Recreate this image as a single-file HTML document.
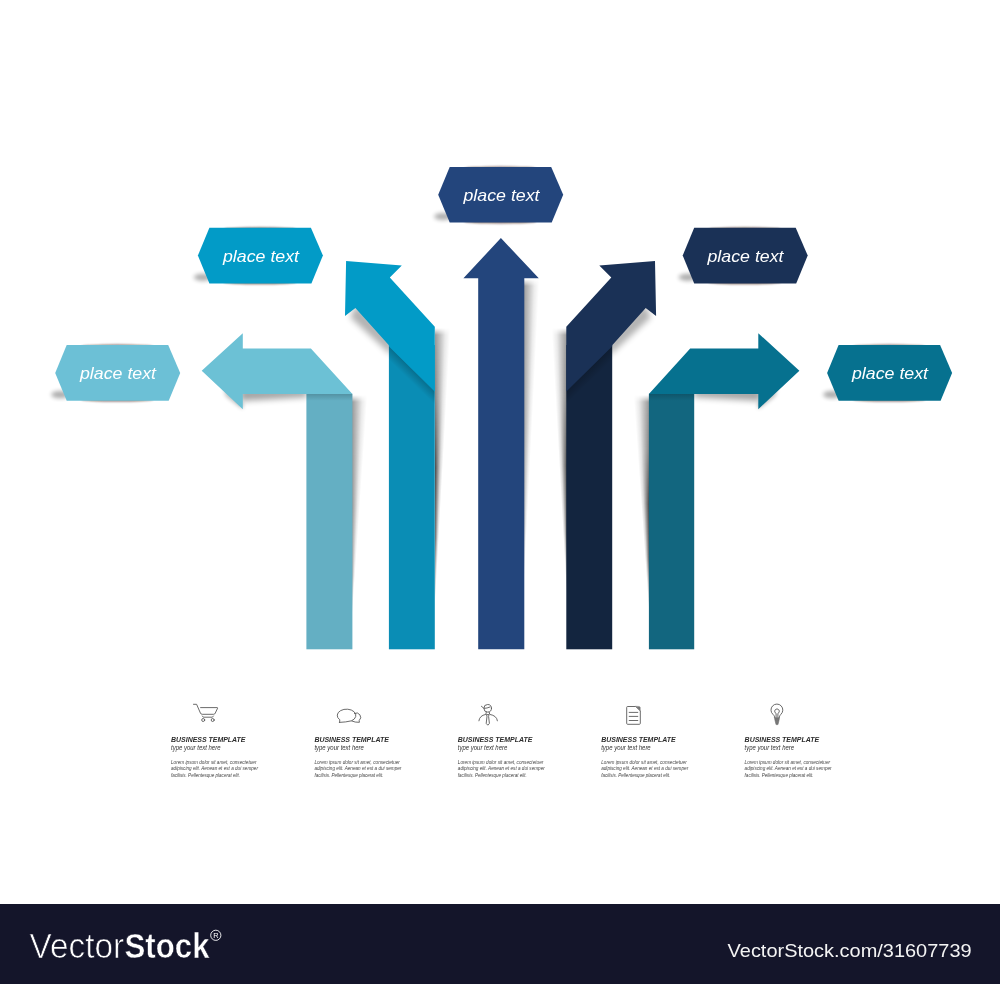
<!DOCTYPE html>
<html><head><meta charset="utf-8">
<style>
html,body{margin:0;padding:0;background:#fff;}
body{position:relative;width:1000px;height:984px;overflow:hidden;font-family:"Liberation Sans",sans-serif;}
svg{display:block;position:absolute;left:0;top:0;z-index:1}
.sh{position:absolute;z-index:0}
text{font-family:"Liberation Sans",sans-serif;}
</style></head><body>
<div class="sh" style="left:352.2px;top:394.6px;width:18px;height:225.4px;background:conic-gradient(from 0deg at 0 100%, rgba(0,0,0,1) 0deg, rgba(0,0,0,.62) 1.298deg, rgba(0,0,0,.2) 2.675deg, rgba(0,0,0,0) 3.934deg, rgba(0,0,0,0) 360deg);-webkit-mask-image:linear-gradient(to bottom,rgba(0,0,0,0.00) 0,rgba(0,0,0,0.40) 7px,rgba(0,0,0,0.42) 50%,rgba(0,0,0,0.34) 80%,rgba(0,0,0,0.00) 100%);mask-image:linear-gradient(to bottom,rgba(0,0,0,0.00) 0,rgba(0,0,0,0.40) 7px,rgba(0,0,0,0.42) 50%,rgba(0,0,0,0.34) 80%,rgba(0,0,0,0.00) 100%);"></div>
<div class="sh" style="left:434.5px;top:327.5px;width:18px;height:280.5px;background:conic-gradient(from 0deg at 0 100%, rgba(0,0,0,1) 0deg, rgba(0,0,0,.62) 1.044deg, rgba(0,0,0,.2) 2.151deg, rgba(0,0,0,0) 3.163deg, rgba(0,0,0,0) 360deg);-webkit-mask-image:linear-gradient(to bottom,rgba(0,0,0,0.00) 0,rgba(0,0,0,0.40) 7px,rgba(0,0,0,0.48) 25%,rgba(0,0,0,0.72) 50%,rgba(0,0,0,0.60) 75%,rgba(0,0,0,0.00) 100%);mask-image:linear-gradient(to bottom,rgba(0,0,0,0.00) 0,rgba(0,0,0,0.40) 7px,rgba(0,0,0,0.48) 25%,rgba(0,0,0,0.72) 50%,rgba(0,0,0,0.60) 75%,rgba(0,0,0,0.00) 100%);"></div>
<div class="sh" style="left:524.2px;top:278.6px;width:18px;height:306.4px;background:conic-gradient(from 0deg at 0 100%, rgba(0,0,0,1) 0deg, rgba(0,0,0,.62) 0.956deg, rgba(0,0,0,.2) 1.969deg, rgba(0,0,0,0) 2.896deg, rgba(0,0,0,0) 360deg);-webkit-mask-image:linear-gradient(to bottom,rgba(0,0,0,0.00) 0,rgba(0,0,0,0.38) 7px,rgba(0,0,0,0.36) 50%,rgba(0,0,0,0.25) 80%,rgba(0,0,0,0.00) 100%);mask-image:linear-gradient(to bottom,rgba(0,0,0,0.00) 0,rgba(0,0,0,0.38) 7px,rgba(0,0,0,0.36) 50%,rgba(0,0,0,0.25) 80%,rgba(0,0,0,0.00) 100%);"></div>
<div class="sh" style="left:548.7px;top:327.5px;width:18px;height:275.5px;background:conic-gradient(from 0deg at 0 100%, rgba(0,0,0,1) 0deg, rgba(0,0,0,.62) 1.063deg, rgba(0,0,0,.2) 2.190deg, rgba(0,0,0,0) 3.220deg, rgba(0,0,0,0) 360deg);-webkit-mask-image:linear-gradient(to bottom,rgba(0,0,0,0.00) 0,rgba(0,0,0,0.40) 7px,rgba(0,0,0,0.48) 25%,rgba(0,0,0,0.72) 50%,rgba(0,0,0,0.60) 75%,rgba(0,0,0,0.00) 100%);mask-image:linear-gradient(to bottom,rgba(0,0,0,0.00) 0,rgba(0,0,0,0.40) 7px,rgba(0,0,0,0.48) 25%,rgba(0,0,0,0.72) 50%,rgba(0,0,0,0.60) 75%,rgba(0,0,0,0.00) 100%);transform:scaleX(-1);"></div>
<div class="sh" style="left:631.1px;top:394.6px;width:18px;height:219.4px;background:conic-gradient(from 0deg at 0 100%, rgba(0,0,0,1) 0deg, rgba(0,0,0,.62) 1.334deg, rgba(0,0,0,.2) 2.748deg, rgba(0,0,0,0) 4.041deg, rgba(0,0,0,0) 360deg);-webkit-mask-image:linear-gradient(to bottom,rgba(0,0,0,0.00) 0,rgba(0,0,0,0.40) 7px,rgba(0,0,0,0.48) 25%,rgba(0,0,0,0.72) 50%,rgba(0,0,0,0.60) 75%,rgba(0,0,0,0.00) 100%);mask-image:linear-gradient(to bottom,rgba(0,0,0,0.00) 0,rgba(0,0,0,0.40) 7px,rgba(0,0,0,0.48) 25%,rgba(0,0,0,0.72) 50%,rgba(0,0,0,0.60) 75%,rgba(0,0,0,0.00) 100%);transform:scaleX(-1);"></div>
<svg width="1000" height="984" viewBox="0 0 1000 984">
<defs>
  <filter id="b2" x="-50%" y="-50%" width="200%" height="200%"><feGaussianBlur stdDeviation="2"/></filter>
  <filter id="b3" x="-50%" y="-50%" width="200%" height="200%"><feGaussianBlur stdDeviation="3"/></filter>
  <filter id="b4" x="-50%" y="-50%" width="200%" height="200%"><feGaussianBlur stdDeviation="4"/></filter>
  <filter id="b1" x="-50%" y="-50%" width="200%" height="200%"><feGaussianBlur stdDeviation="1.2"/></filter>
  <linearGradient id="foldv" x1="0" y1="0" x2="0" y2="1">
    <stop offset="0" stop-color="#000" stop-opacity="0.17"/><stop offset="1" stop-color="#000" stop-opacity="0"/>
  </linearGradient>
  <linearGradient id="foldd" gradientUnits="userSpaceOnUse" x1="411" y1="369" x2="404.7" y2="375.5">
    <stop offset="0" stop-color="#000" stop-opacity="0.2"/><stop offset="1" stop-color="#000" stop-opacity="0"/>
  </linearGradient>

  <!-- side (90deg) arrow pointing left, with vertical leg -->
  <g id="sideShadow">
        <polygon points="240,389 307,389 307,397 240,401" fill="#000" opacity="0.36" filter="url(#b3)"/>
    <polygon points="224,388 243,404 243,409 226,396" fill="#000" opacity="0.3" filter="url(#b2)"/>
  </g>
  <!-- diagonal arrow (up-left) -->
  <g id="diagShadow">
        <polygon points="357,304 393,343 391,355 350,317" fill="#000" opacity="0.3" filter="url(#b3)"/>
  </g>
  <!-- label hexagon -->
  <g id="hexShadow">
    <ellipse cx="5" cy="49.5" rx="9" ry="3.6" fill="#000" opacity="0.32" filter="url(#b2)"/>
    <ellipse cx="62" cy="1.5" rx="36" ry="2" fill="#3a1a10" opacity="0.6" filter="url(#b1)"/>
    <ellipse cx="62" cy="54.5" rx="36" ry="2" fill="#3a1a10" opacity="0.6" filter="url(#b1)"/>
  </g>
  <polygon id="hex" points="0,27.8 11.5,0 113,0 125,27.8 113.5,55.6 11.5,55.6"/>
</defs>


<!-- ===== Arrow 1 (left) ===== -->
<use href="#sideShadow"/>
<rect x="306.4" y="393.8" width="46" height="255.5" fill="#64afc3"/>
<rect x="306.4" y="393.8" width="46" height="7" fill="url(#foldv)"/>
<polygon points="201.7,370.7 242.8,333.2 242.8,348.5 310.9,348.5 352.4,394 242.8,394 242.8,409.2" fill="#6cc1d5"/>

<!-- ===== Arrow 5 (right) mirrored ===== -->
<g transform="translate(1001.1,0) scale(-1,1)">
  <use href="#sideShadow"/>
  <rect x="306.9" y="393.8" width="45.3" height="255.5" fill="#12667f"/>
  <rect x="306.9" y="393.8" width="45.3" height="7" fill="url(#foldv)"/>
  <polygon points="201.7,370.7 242.8,333.2 242.8,348.5 310.9,348.5 352.2,394 242.8,394 242.8,409.2" fill="#06718f"/>
</g>

<!-- ===== Arrow 2 (diag left) ===== -->
<use href="#diagShadow"/>
<rect x="388.9" y="345" width="45.9" height="304.3" fill="#0a8db5"/>
<polygon points="388.9,346.2 434.8,391.5 434.8,405 388.9,359.7" fill="url(#foldd)"/>
<polygon points="346.1,261 401.8,265.6 389.8,277.6 434.8,326.8 434.8,391.5 388.9,346.2 388.9,345.2 355.4,308 345,316" fill="#029bc7"/>

<!-- ===== Arrow 4 (diag right) mirrored ===== -->
<g transform="translate(1001.1,0) scale(-1,1)">
  <use href="#diagShadow"/>
  <rect x="388.9" y="345" width="45.9" height="304.3" fill="#13253f"/>
  <polygon points="388.9,346.2 434.8,391.5 434.8,405 388.9,359.7" fill="url(#foldd)"/>
  <polygon points="346.1,261 401.8,265.6 389.8,277.6 434.8,326.8 434.8,391.5 388.9,346.2 388.9,345.2 355.4,308 345,316" fill="#1a3156"/>
</g>

<!-- ===== Arrow 3 (center) ===== -->
<polygon points="500.9,238 538.8,278.3 524.3,278.3 524.3,649.3 478.2,649.3 478.2,278.3 463.4,278.3" fill="#23457c"/>

<!-- ===== Labels ===== -->
<g transform="translate(55.2,345.1)"><use href="#hexShadow"/><use href="#hex" fill="#6cc0d6"/></g>
<g transform="translate(197.9,227.8)"><use href="#hexShadow"/><use href="#hex" fill="#029bc7"/></g>
<g transform="translate(438.2,167)"><use href="#hexShadow"/><use href="#hex" fill="#23457c"/></g>
<g transform="translate(682.7,227.8)"><use href="#hexShadow"/><use href="#hex" fill="#1a3156"/></g>
<g transform="translate(827.1,345.1)"><use href="#hexShadow"/><use href="#hex" fill="#06718f"/></g>
<g font-style="italic" font-size="17" fill="#fff" text-anchor="middle" opacity="0.999">
  <text x="118" y="379" textLength="76" lengthAdjust="spacingAndGlyphs">place text</text>
  <text x="261" y="261.6" textLength="76" lengthAdjust="spacingAndGlyphs">place text</text>
  <text x="501.5" y="201" textLength="76" lengthAdjust="spacingAndGlyphs">place text</text>
  <text x="745.5" y="261.6" textLength="76" lengthAdjust="spacingAndGlyphs">place text</text>
  <text x="890" y="379" textLength="76" lengthAdjust="spacingAndGlyphs">place text</text>
</g>

<!-- ===== Bottom text blocks ===== -->
<g id="blocks" fill="#2c2c2c" opacity="0.999">
  <g id="blk">
    <text x="171" y="742.4" font-size="7" font-weight="bold" font-style="italic" textLength="74.5" lengthAdjust="spacingAndGlyphs">BUSINESS TEMPLATE</text>
    <text x="171" y="749.6" font-size="6.4" font-style="italic" textLength="49.5" lengthAdjust="spacingAndGlyphs" fill="#333">type your text here</text>
    <g font-size="4.6" font-style="italic" fill="#444">
      <text x="171" y="763.6" textLength="85.5" lengthAdjust="spacingAndGlyphs">Lorem ipsum dolor sit amet, consectetuer</text>
      <text x="171" y="770.1" textLength="87" lengthAdjust="spacingAndGlyphs">adipiscing elit. Aenean et est a dui semper</text>
      <text x="171" y="776.6" textLength="69" lengthAdjust="spacingAndGlyphs">facilisis. Pellentesque placerat elit.</text>
    </g>
  </g>
  <use href="#blk" x="143.4"/>
  <use href="#blk" x="286.8"/>
  <use href="#blk" x="430.2"/>
  <use href="#blk" x="573.6"/>
</g>

<!-- ===== Icons ===== -->
<g fill="none" stroke="#5a5a5a" stroke-width="0.9" stroke-linecap="round" stroke-linejoin="round">
  <!-- cart -->
  <path d="M193.5,704.3 H196.6 L200.4,713 Q200.9,714.3 202.2,714.3 H213.6 Q214.9,714.3 215.3,713 L217.6,708.2 Q217.8,707.6 217,707.6 H200.6"/>
  <path d="M202.4,716 L203.3,717.2 H212.4 L213.4,716"/>
  <circle cx="203.2" cy="720" r="1.5"/><circle cx="212.7" cy="720" r="1.5"/>
  <!-- chat -->
  <path d="M339.6,722.4 L339.8,719.8 A9.3,6.3 0 1 1 351.5,720.8 Q346,722.2 339.6,722.4 Z"/>
  <path d="M354.4,713.5 A4.2,4.3 0 0 1 359.2,720.5 L359.4,722.3 Q355,722.5 351.8,721"/>
  <!-- person -->
  <circle cx="487.7" cy="708.3" r="3.8"/>
  <path d="M481.4,706.3 L484,708.4 Q487,708.3 490,707"/>
  <path d="M478.9,720.8 Q479.5,715.6 485.8,714.4 L486.3,712.2 M489.2,712.2 L489.7,714.4 Q496.8,715.6 497.4,720.8"/>
  <path d="M486.6,714.6 H489 L488.6,716.4 L489.4,723.4 L487.8,725.2 L486.2,723.4 L487,716.4 Z"/>
  <!-- doc -->
  <path d="M635.4,706.5 H627.6 Q626.7,706.5 626.7,707.4 V723.4 Q626.7,724.3 627.6,724.3 H639.4 Q640.3,724.3 640.3,723.4 V711.2 Z"/>
  <path d="M636,706.6 L640.2,710.8 L640.2,707.6 Q640,706.4 638.8,706.4 Z" fill="#777" stroke="#777" stroke-width="0.5"/>
  <path d="M629.2,712.4 H637.8 M629.2,716.4 H637.8 M629.2,720.5 H637.8"/>
  <!-- bulb -->
  <path d="M774.6,717.4 V716.9 Q774.4,715.7 773,714.4 A5.9,5.9 0 1 1 780.8,714.4 Q779.6,715.7 779.4,716.9 V717.4"/>
  <path d="M776.1,716.9 V713.4 A2.3,2.3 0 1 1 777.9,713.4 V716.9"/>
  <path d="M774.6,717.6 H779.4 V718.8 L778,724.6 H776 L774.6,718.8 Z" fill="#777" stroke="#666" stroke-width="0.5"/>
</g>

<!-- ===== Footer ===== -->
<rect x="0" y="904" width="1000" height="80" fill="#14152a"/>
<g fill="#fff" opacity="0.999">
  <text x="29.6" y="957.5" font-size="35" textLength="94.6" lengthAdjust="spacingAndGlyphs" stroke="#14152a" stroke-width="0.7">Vector</text>
  <text x="124.5" y="957.5" font-size="35" font-weight="bold" textLength="85" lengthAdjust="spacingAndGlyphs" stroke="#14152a" stroke-width="0.5">Stock</text>
  <circle cx="215.8" cy="935.3" r="5.1" fill="none" stroke="#fff" stroke-width="0.9"/>
  <text x="215.9" y="938" font-size="7.4" text-anchor="middle">R</text>
  <text x="727.6" y="956.6" font-size="18.4" textLength="244" lengthAdjust="spacingAndGlyphs" fill="#f4f4f4">VectorStock.com/31607739</text>
</g>
</svg>
</body></html>
